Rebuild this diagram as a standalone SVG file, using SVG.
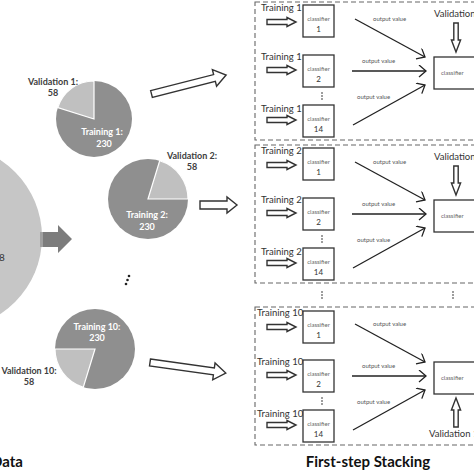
<svg xmlns="http://www.w3.org/2000/svg" xmlns:xlink="http://www.w3.org/1999/xlink" width="474" height="474" viewBox="0 0 474 474">
<style>
text{font-family:Lato,"Liberation Sans",sans-serif}
.vl{font-size:9px;font-weight:bold;fill:#404040;text-anchor:middle}
.tl{font-size:9px;font-weight:bold;fill:#ffffff;text-anchor:middle}
.tr{font-size:9.5px;fill:#333}
.cl{font-size:6px;fill:#666;text-anchor:middle}
.num{font-size:8px;fill:#333;text-anchor:middle}
.ov{font-size:6px;fill:#555}
.dark{fill:#8f8f8f}
.light{fill:#c0c0c0;stroke:#fff;stroke-width:1.2}
.box{fill:#fff;stroke:#333;stroke-width:1.3}
.ha{fill:#fff;stroke:#333;stroke-width:1.4;stroke-linejoin:miter}
.dash{fill:none;stroke:#666;stroke-width:1.1;stroke-dasharray:5 3}
.ln{stroke:#222;stroke-width:1.3;fill:none;marker-end:url(#oa)}
.dot{fill:#222}
.big{font-size:15px;font-weight:bold;fill:#111}
</style>
<defs>
<marker id="oa" markerUnits="userSpaceOnUse" markerWidth="12" markerHeight="14" refX="8" refY="6" orient="auto">
<path d="M1,0 L8,6 L1,12" fill="none" stroke="#222" stroke-width="1.3"/>
</marker>
<polygon id="sa" class="ha" points="0,-2.5 20,-2.5 20,-4.5 29,0 20,4.5 20,2.5 0,2.5"/>
<polygon id="va" class="ha" points="0,-2.2 17,-2.2 17,-4.6 29,0 17,4.6 17,2.2 0,2.2"/>
<g id="panel">
<text class="tr" x="261" y="11">Training N</text>
</g>
</defs>

<!-- Left: data -->
<g id="whole-data">
<circle cx="-50" cy="237" r="92" fill="#c6c6c6"/>
<text x="-1" y="261" font-size="10" fill="#333">8</text>
<text class="big" x="-9" y="467">Data</text>
</g>
<g id="split-arrow">
<rect x="40" y="232" width="3" height="15" fill="#a0a0a0"/>
<polygon points="43,232 58,232 58,225 72,239 58,253 58,247 43,247" fill="#7c7c7c"/>
</g>

<g id="pie1">
<circle cx="94" cy="119" r="38" class="dark"/>
<path class="light" d="M94,119 L94,81 A38,38 0 0 0 57.76,107.57 Z"/>
<text class="vl" x="53" y="85">Validation 1:</text>
<text class="vl" x="53" y="96">58</text>
<text class="tl" x="102" y="135">Training 1:</text>
<text class="tl" x="104" y="147">230</text>
</g>
<g id="pie2">
<circle cx="148" cy="199" r="40" class="dark"/>
<path class="light" d="M148,199 L159.69,160.75 A40,40 0 0 1 188,199 Z"/>
<text class="vl" x="192" y="159">Validation 2:</text>
<text class="vl" x="192" y="170">58</text>
<text class="tl" x="147" y="218">Training 2:</text>
<text class="tl" x="147" y="230">230</text>
</g>
<g id="pie-dots">
<circle class="dot" cx="129" cy="276" r="1.3"/>
<circle class="dot" cx="127.5" cy="280" r="1.3"/>
<circle class="dot" cx="126" cy="284" r="1.3"/>
</g>
<g id="pie10">
<circle cx="95" cy="349" r="40" class="dark"/>
<path class="light" d="M95,349 L83.31,387.25 A40,40 0 0 1 55,349 Z"/>
<text class="tl" x="97" y="330">Training 10:</text>
<text class="tl" x="97" y="341">230</text>
<text class="vl" x="29" y="374">Validation 10:</text>
<text class="vl" x="29" y="385">58</text>
</g>

<g id="connectors">
<polygon class="ha" transform="translate(151.5,94) rotate(-14.3)" points="0,-3.5 65,-3.5 65,-8.5 77,0 65,8.5 65,3.5 0,3.5"/>
<polygon class="ha" transform="translate(200,205)" points="0,-4 27,-4 27,-8 37,0 27,8 27,4 0,4"/>
<polygon class="ha" transform="translate(150,362.5) rotate(7.9)" points="0,-3.5 64.5,-3.5 64.5,-8.5 76.5,0 64.5,8.5 64.5,3.5 0,3.5"/>
</g>

<!-- Panel 1 -->
<g id="panel1">
<rect class="dash" x="255" y="2" width="240" height="138"/>
<text class="tr" x="261" y="11">Training 1</text>
<text class="tr" x="261" y="60">Training 1</text>
<text class="tr" x="261" y="112">Training 1</text>
<use xlink:href="#sa" x="267" y="22"/>
<use xlink:href="#sa" x="267" y="70"/>
<use xlink:href="#sa" x="267" y="120"/>
<rect class="box" x="303" y="5" width="31" height="32"/>
<text class="cl" x="318.5" y="21">classifier</text><text class="num" x="318.5" y="32">1</text>
<rect class="box" x="303" y="55" width="31" height="32"/>
<text class="cl" x="318.5" y="71">classifier</text><text class="num" x="318.5" y="82">2</text>
<circle class="dot" cx="322" cy="93" r="0.8"/><circle class="dot" cx="322" cy="96" r="0.8"/><circle class="dot" cx="322" cy="99" r="0.8"/>
<rect class="box" x="303" y="105" width="31" height="32"/>
<text class="cl" x="318.5" y="121">classifier</text><text class="num" x="318.5" y="132">14</text>
<line class="ln" x1="355" y1="19" x2="425" y2="57"/>
<line class="ln" x1="352" y1="71" x2="426" y2="71"/>
<line class="ln" x1="353" y1="125" x2="425" y2="85"/>
<text class="ov" x="373" y="21">output value</text>
<text class="ov" x="362" y="63">output value</text>
<text class="ov" x="357" y="99">output value</text>
<text class="tr" x="434" y="17">Validation</text>
<use xlink:href="#va" transform="translate(456,23) rotate(90)"/>
<rect class="box" x="434" y="57" width="60" height="32"/>
<text class="cl" x="441" y="75" style="text-anchor:start">classifier</text>
</g>

<!-- Panel 2 -->
<g id="panel2" transform="translate(0,143)">
<rect class="dash" x="255" y="2" width="240" height="138"/>
<text class="tr" x="261" y="11">Training 2</text>
<text class="tr" x="261" y="60">Training 2</text>
<text class="tr" x="261" y="112">Training 2</text>
<use xlink:href="#sa" x="267" y="22"/>
<use xlink:href="#sa" x="267" y="70"/>
<use xlink:href="#sa" x="267" y="120"/>
<rect class="box" x="303" y="5" width="31" height="32"/>
<text class="cl" x="318.5" y="21">classifier</text><text class="num" x="318.5" y="32">1</text>
<rect class="box" x="303" y="55" width="31" height="32"/>
<text class="cl" x="318.5" y="71">classifier</text><text class="num" x="318.5" y="82">2</text>
<circle class="dot" cx="322" cy="93" r="0.8"/><circle class="dot" cx="322" cy="96" r="0.8"/><circle class="dot" cx="322" cy="99" r="0.8"/>
<rect class="box" x="303" y="105" width="31" height="32"/>
<text class="cl" x="318.5" y="121">classifier</text><text class="num" x="318.5" y="132">14</text>
<line class="ln" x1="355" y1="19" x2="425" y2="57"/>
<line class="ln" x1="352" y1="71" x2="426" y2="71"/>
<line class="ln" x1="353" y1="125" x2="425" y2="85"/>
<text class="ov" x="373" y="21">output value</text>
<text class="ov" x="362" y="63">output value</text>
<text class="ov" x="357" y="99">output value</text>
<text class="tr" x="434" y="17">Validation</text>
<use xlink:href="#va" transform="translate(456,23) rotate(90)"/>
<rect class="box" x="434" y="57" width="60" height="32"/>
<text class="cl" x="441" y="75" style="text-anchor:start">classifier</text>
</g>

<g id="panel-dots">
<circle class="dot" cx="322" cy="292" r="0.8"/><circle class="dot" cx="322" cy="295" r="0.8"/><circle class="dot" cx="322" cy="298" r="0.8"/>
<circle class="dot" cx="453" cy="292" r="0.8"/><circle class="dot" cx="453" cy="295" r="0.8"/><circle class="dot" cx="453" cy="298" r="0.8"/>
</g>

<!-- Panel 3 -->
<g id="panel10" transform="translate(0,305)">
<rect class="dash" x="255" y="2" width="240" height="138"/>
<text class="tr" x="257" y="11">Training 10</text>
<text class="tr" x="257" y="60">Training 10</text>
<text class="tr" x="257" y="112">Training 10</text>
<use xlink:href="#sa" x="267" y="22"/>
<use xlink:href="#sa" x="267" y="70"/>
<use xlink:href="#sa" x="267" y="120"/>
<rect class="box" x="303" y="6" width="31" height="32"/>
<text class="cl" x="318.5" y="22">classifier</text><text class="num" x="318.5" y="33">1</text>
<rect class="box" x="303" y="55" width="31" height="32"/>
<text class="cl" x="318.5" y="71">classifier</text><text class="num" x="318.5" y="82">2</text>
<circle class="dot" cx="322" cy="93" r="0.8"/><circle class="dot" cx="322" cy="96" r="0.8"/><circle class="dot" cx="322" cy="99" r="0.8"/>
<rect class="box" x="303" y="105" width="31" height="32"/>
<text class="cl" x="318.5" y="121">classifier</text><text class="num" x="318.5" y="132">14</text>
<line class="ln" x1="355" y1="19" x2="425" y2="57"/>
<line class="ln" x1="352" y1="71" x2="426" y2="71"/>
<line class="ln" x1="353" y1="125" x2="425" y2="85"/>
<text class="ov" x="373" y="21">output value</text>
<text class="ov" x="362" y="63">output value</text>
<text class="ov" x="357" y="99">output value</text>
<rect class="box" x="434" y="57" width="60" height="32"/>
<text class="cl" x="441" y="75" style="text-anchor:start">classifier</text>
<use xlink:href="#va" transform="translate(456,122) rotate(-90)"/>
<text class="tr" x="429" y="132">Validation 10</text>
</g>

<text class="big" x="368" y="467" text-anchor="middle">First-step Stacking</text>
</svg>
